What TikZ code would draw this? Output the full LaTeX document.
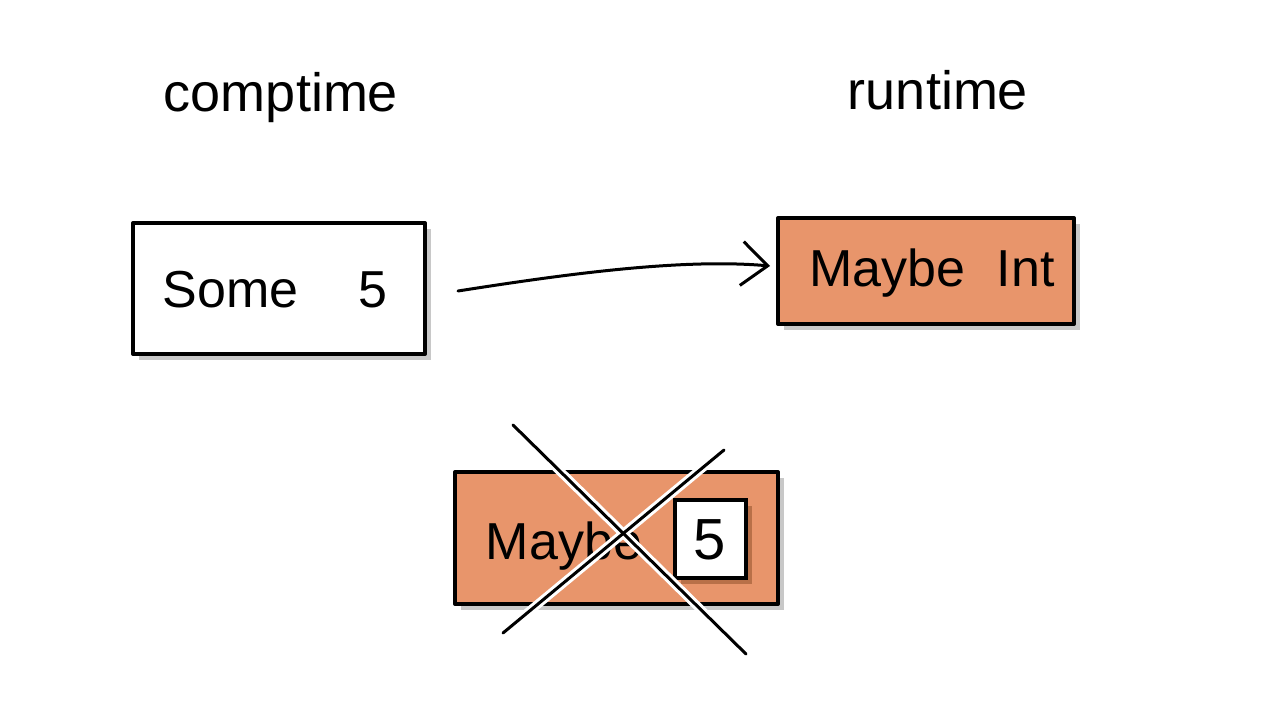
\documentclass[tikz,border=0pt]{standalone}
\usepackage{fontspec}
\setmainfont{Liberation Sans}
\usetikzlibrary{arrows.meta}
\definecolor{boxorange}{HTML}{E8956B}
\definecolor{shadowgray}{HTML}{C8C8C8}
\definecolor{shadoworange}{HTML}{B87048}
\tikzset{
  sketchbox/.style={draw=black, line width=4pt, line join=round},
  shadowbox/.style={fill=shadowgray, draw=none},
  lbl/.style={font=\fontsize{52}{56}\selectfont, text=black, inner sep=0pt},
  title/.style={font=\fontsize{54}{58}\selectfont, text=black, inner sep=0pt},
  crossline/.style={line width=3pt, black, line cap=round},
  crosshalo/.style={line width=9pt, white, line cap=round},
  conn/.style={line width=3pt, black, line cap=round, -{Straight Barb[length=26pt,width=44pt,line width=3pt]}}
}
\begin{document}
\begin{tikzpicture}[x=1pt,y=-1pt]
\useasboundingbox (0,0) rectangle (1280,720);
\fill[white] (0,0) rectangle (1280,720);
% titles
\node[title] (ct) at (281,98) {comptime};
\node[title] (rt) at (938,90) {runtime};
% Some 5 box
\fill[shadowbox] (139,229) rectangle (431,360);
\node[sketchbox, fill=white, minimum width=292pt, minimum height=131pt, inner sep=0pt] (some) at (279,288.5) {};
\node[lbl] (sometxt) at (275,290) {Some\hspace{1.15em}5};
% Maybe Int box
\fill[shadowbox] (784,224) rectangle (1080,330);
\node[sketchbox, fill=boxorange, minimum width=296pt, minimum height=106pt, inner sep=0pt] (mint) at (926,271) {};
\node[lbl] (minttxt) at (932,273) {Maybe\hspace{0.6em}Int};
% arrow
\coordinate (astart) at (458,291);
\coordinate (aend) at (770,266);
\draw[conn] (astart) .. controls (560,275) and (680,258) .. (aend);
% bottom box
\fill[shadowbox] (461,478) rectangle (784,610);
\node[sketchbox, fill=boxorange, minimum width=323pt, minimum height=132pt, inner sep=0pt] (mb) at (616.5,538) {};
\node[lbl] (mbtxt) at (564,546) {Maybe};
\fill[shadoworange] (681,506) rectangle (752,584);
\node[draw=black, line width=3.5pt, fill=white, minimum width=71pt, minimum height=78pt, inner sep=0pt] (five) at (710.5,539) {};
\node[lbl, font=\fontsize{58}{62}\selectfont] (fivetxt) at (710,540) {5};
% cross
\coordinate (c1a) at (513,425);
\coordinate (c1b) at (746,654);
\coordinate (c2a) at (503,633);
\coordinate (c2b) at (724,450);
\draw[crosshalo] (c1a) -- (c1b);
\draw[crosshalo] (c2a) -- (c2b);
\draw[crossline] (c1a) -- (c1b);
\draw[crossline] (c2a) -- (c2b);
\end{tikzpicture}
\end{document}
